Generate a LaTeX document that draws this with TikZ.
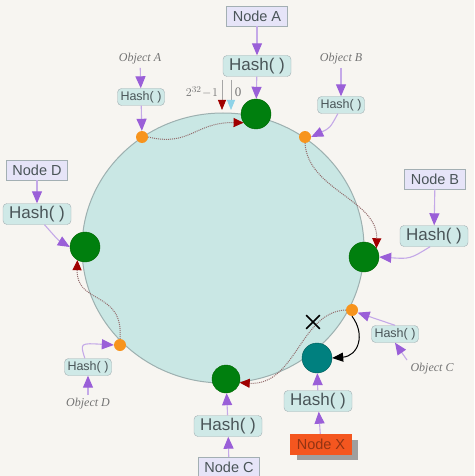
\documentclass[tikz,border=0pt]{standalone}
\usepackage{fontspec}
\setmainfont{Liberation Sans}
\newfontfamily\labelfont{Liberation Serif}
\usetikzlibrary{arrows.meta, shadows, shapes.misc}

\definecolor{paper}{HTML}{F7F5F1}
\definecolor{ringfill}{HTML}{C9E7E4}
\definecolor{ringline}{HTML}{9DB0B0}
\definecolor{lavender}{HTML}{E6E4F8}
\definecolor{hashfill}{HTML}{CFE9E7}
\definecolor{boxline}{HTML}{A3AFB3}
\definecolor{boxtext}{HTML}{4A5558}
\definecolor{srvgreen}{HTML}{007F0E}
\definecolor{keyorange}{HTML}{F7941D}
\definecolor{tealnode}{HTML}{00807F}
\definecolor{purplehead}{HTML}{9A5FD8}
\definecolor{purpleline}{HTML}{C4A9E8}
\definecolor{walkred}{HTML}{A00000}
\definecolor{zeroblue}{HTML}{8FD3E8}
\definecolor{newred}{HTML}{F4561F}

\begin{document}
\begin{tikzpicture}[x=1pt, y=-1pt,
    nodebox/.style={draw=boxline, fill=lavender, minimum width=61pt, minimum height=20pt, inner sep=0pt, text=boxtext, font=\fontsize{14.5}{16}\selectfont},
    hashbig/.style={draw=boxline, fill=hashfill, rounded corners=4pt, minimum width=68pt, minimum height=21pt, inner sep=0pt, text=boxtext, font=\fontsize{17}{18}\selectfont},
    hashsmall/.style={hashbig, minimum width=47pt, minimum height=17pt, font=\fontsize{12.5}{14}\selectfont},
    objlabel/.style={text=gray!90!black, font=\labelfont\itshape\fontsize{12}{14}\selectfont},
    server/.style={circle, draw=green!40!black, fill=srvgreen, minimum size=30pt, inner sep=0pt},
    objdot/.style={circle, fill=keyorange, minimum size=12pt, inner sep=0pt},
    hashto/.style={draw=purpleline, line width=1.1pt, -{Triangle[length=12pt, width=10pt, color=purplehead]}},
    walk/.style={draw=gray!85!red, densely dotted, line width=1pt, -{Triangle[length=10pt, width=9pt, color=walkred]}}
  ]
  \useasboundingbox (0,0) rectangle (474,476);
  \fill[paper] (0,0) rectangle (474,476);

  % the ring
  \draw[ringline, fill=ringfill, line width=1pt] (223,248) ellipse [x radius=141pt, y radius=135pt];

  % servers on the ring
  \node[server] (srvA) at (256,114) {};
  \node[server] (srvB) at (364,257) {};
  \node[server, minimum size=28pt] (srvC) at (226,379) {};
  \node[server] (srvD) at (85,247) {};
  \node[server, fill=tealnode, draw=tealnode!70!black] (srvX) at (317,358) {};

  % objects on the ring
  \node[objdot] (objA) at (142,137) {};
  \node[objdot] (objB) at (305,137) {};
  \node[objdot] (objC) at (352,310) {};
  \node[objdot] (objD) at (120,345) {};

  \node[nodebox] (nodeA) at (257,16) {Node A};
  \node[nodebox] (nodeB) at (435,179) {Node B};
  \node[nodebox] (nodeC) at (229,467) {Node C};
  \node[nodebox] (nodeD) at (37,170) {Node D};
  \node[nodebox, fill=newred, draw=newred, text=newred!60!black,
        drop shadow={shadow xshift=6pt, shadow yshift=-6pt, fill=gray!75, opacity=1}] (nodeX) at (321,444) {Node X};

  \node[hashbig] (hashA) at (257,66) {Hash( )};
  \node[hashbig] (hashB) at (434,236) {Hash( )};
  \node[hashbig] (hashC) at (228,426) {Hash( )};
  \node[hashbig] (hashD) at (37,214) {Hash( )};
  \node[hashbig] (hashX) at (318,401) {Hash( )};

  \node[hashsmall] (khA) at (141,97) {Hash( )};
  \node[hashsmall] (khB) at (341,105) {Hash( )};
  \node[hashsmall] (khC) at (395,334) {Hash( )};
  \node[hashsmall] (khD) at (88,367) {Hash( )};

  \node[objlabel] (lblA) at (140,59) {Object A};
  \node[objlabel] (lblB) at (341,59) {Object B};
  \node[objlabel] (lblC) at (432,369) {Object C};
  \node[objlabel] (lblD) at (88,404) {Object D};

  % hashing arrows
  \draw[hashto] (nodeA) -- (hashA);
  \draw[hashto] (hashA) -- (srvA);
  \draw[hashto] (nodeB) -- (hashB);
  \draw[hashto] (hashB.-110) .. controls (410,259) .. (srvB.east);
  \draw[hashto] (nodeC) -- (hashC);
  \draw[hashto] (hashC) -- (srvC);
  \draw[hashto] (nodeD) -- (hashD);
  \draw[hashto] (hashD.-55) .. controls (58,240) .. (srvD.west);
  \draw[hashto] (nodeX) -- (hashX);
  \draw[hashto] (hashX) -- (srvX);

  \draw[hashto] (lblA) -- (khA);
  \draw[hashto] (khA) -- (objA);
  \draw[hashto] (lblB) -- (khB);
  \draw[hashto] (khB.-110) .. controls (330,128) .. (objB.east);
  \draw[hashto] (lblC.north west) -- (khC.south);
  \draw[hashto] (khC.north) -- (objC.-25);
  \draw[hashto] (lblD) -- (khD);
  \draw[hashto] (khD.110) .. controls (80,343) .. (objD.west);

  % walking clockwise to the next server
  \draw[walk] (objA.east) .. controls (190,147) and (195,122) .. (srvA.215);
  \draw[walk] (objB.south) .. controls (308,190) and (378,200) .. (srvB.35);
  \draw[walk] (objC.west) .. controls (300,312) and (296,386) .. (srvC.-15);
  \draw[walk] (objD.north) .. controls (124,290) and (76,305) .. (srvD.240);

  % new server takes over
  \node[cross out, draw=black, line width=1.6pt, minimum size=12pt, inner sep=0pt] (cut) at (313,322) {};
  \draw[black, line width=1pt, -{Triangle[length=11pt, width=9pt]}] (objC.south) .. controls (366,335) and (358,356) .. (srvX.east);

  % where the ring wraps
  \coordinate (maxTop) at (222,80);
  \coordinate (maxTip) at (222,110);
  \coordinate (zeroTop) at (231,80);
  \coordinate (zeroTip) at (231,110);
  \draw[gray!70, line width=0.8pt, -{Triangle[length=10pt, width=8pt, color=walkred]}] (maxTop) -- (maxTip);
  \draw[gray!70, line width=0.8pt, -{Triangle[length=10pt, width=8pt, color=zeroblue]}] (zeroTop) -- (zeroTip);
  \node[text=gray!90!black, font=\fontsize{13}{14}\selectfont] (maxLbl) at (202,92) {$2^{32}\!-\!1$};
  \node[text=gray!90!black, font=\labelfont\fontsize{13}{14}\selectfont] (zeroLbl) at (238,92) {0};
\end{tikzpicture}
\end{document}
